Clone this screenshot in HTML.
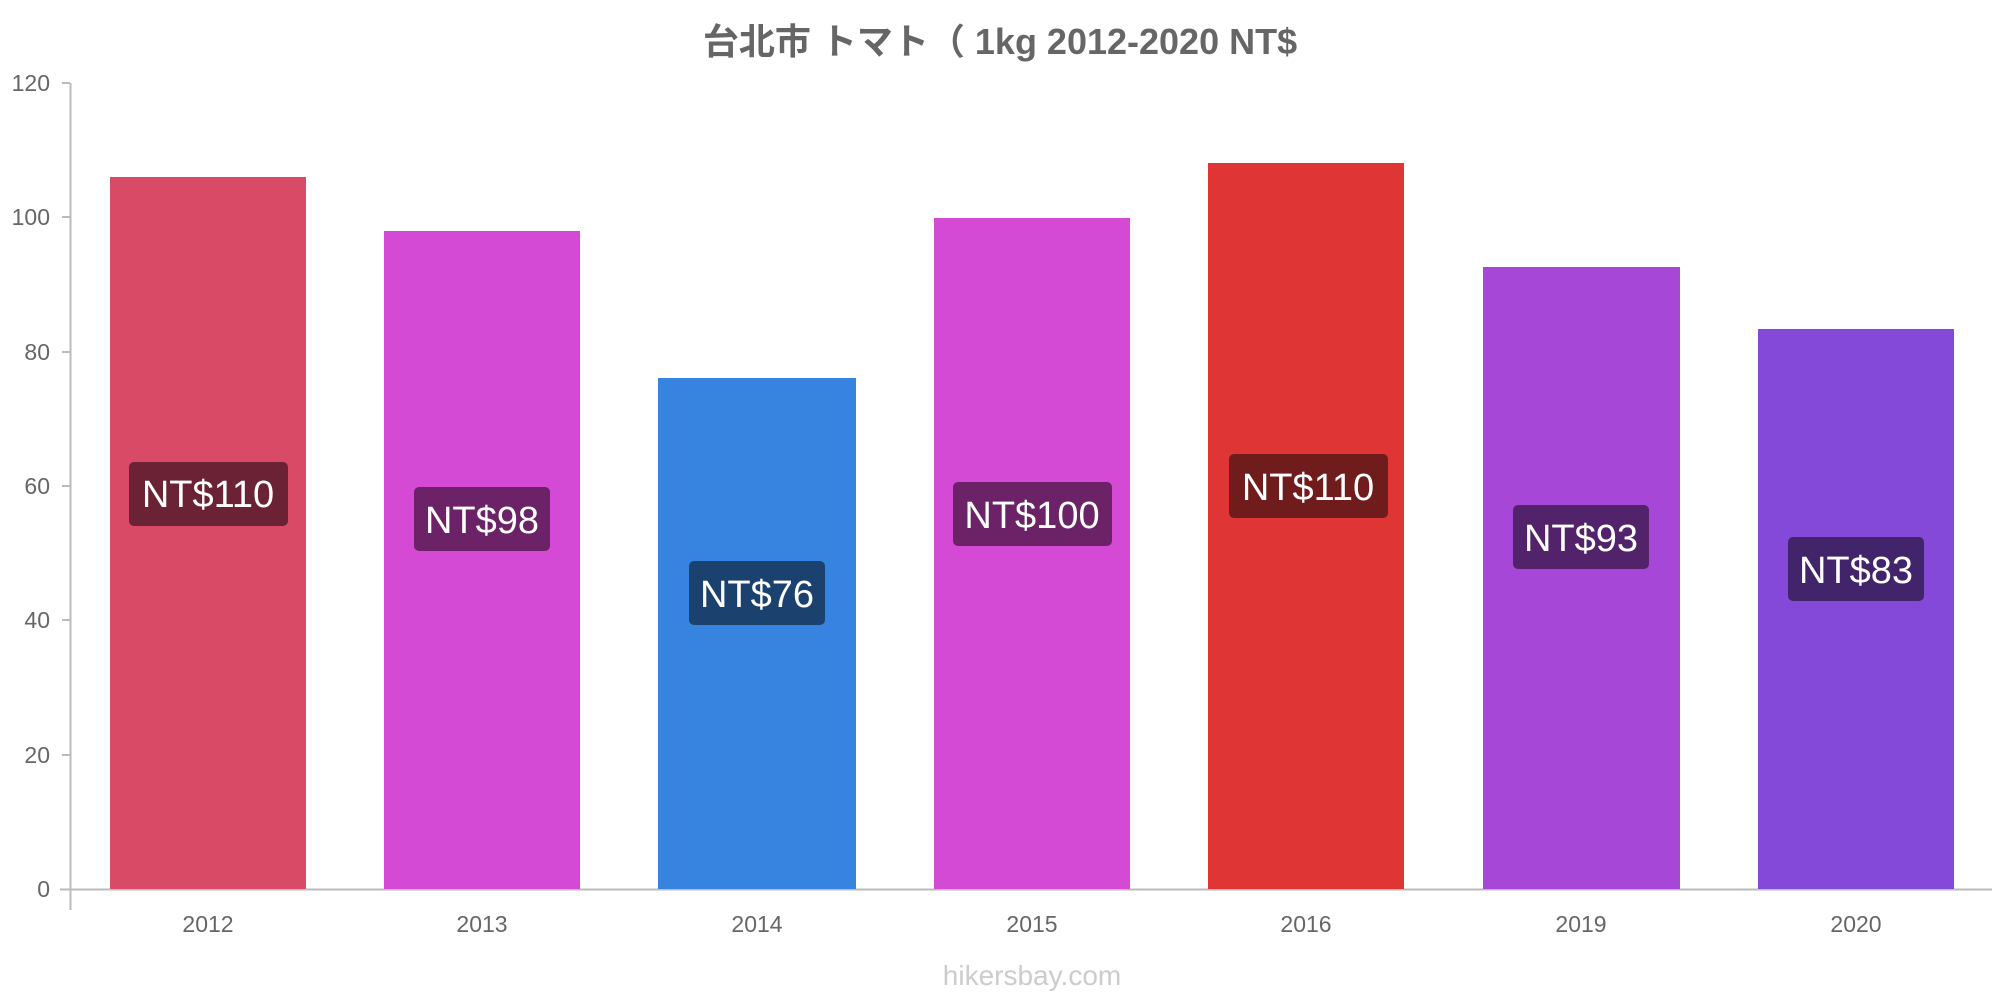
<!DOCTYPE html>
<html><head><meta charset="utf-8"><style>
html,body{margin:0;padding:0;background:#fff;width:2000px;height:1000px;overflow:hidden}
svg text{font-family:"Liberation Sans","Noto Sans CJK JP",sans-serif}
</style></head><body>
<svg width="2000" height="1000" viewBox="0 0 2000 1000" xmlns="http://www.w3.org/2000/svg">
<text x="1000" y="54" text-anchor="middle" font-size="36" font-weight="bold" fill="#666">台北市 トマト（ 1kg 2012-2020 NT$</text>
<line x1="70.5" y1="83" x2="70.5" y2="910" stroke="#bbb" stroke-width="2"/>
<line x1="60" y1="889.5" x2="1992" y2="889.5" stroke="#bbb" stroke-width="2"/>
<g font-size="23" fill="#666" text-anchor="end">
<text x="50" y="91">120</text><text x="50" y="225">100</text><text x="50" y="360">80</text>
<text x="50" y="494">60</text><text x="50" y="628">40</text><text x="50" y="763">20</text><text x="50" y="897">0</text>
</g>
<g stroke="#bbb" stroke-width="2">
<line x1="62" y1="83" x2="70" y2="83"/><line x1="62" y1="217" x2="70" y2="217"/><line x1="62" y1="352" x2="70" y2="352"/><line x1="62" y1="486" x2="70" y2="486"/><line x1="62" y1="620" x2="70" y2="620"/><line x1="62" y1="755" x2="70" y2="755"/>
</g>
<rect x="110" y="177" width="196" height="712" fill="#d84a66"/>
<rect x="384" y="231" width="196" height="658" fill="#d54ad4"/>
<rect x="658" y="378" width="198" height="511" fill="#3784e0"/>
<rect x="934" y="218" width="196" height="671" fill="#d54ad4"/>
<rect x="1208" y="163" width="196" height="726" fill="#e03535"/>
<rect x="1483" y="267" width="197" height="622" fill="#a647d8"/>
<rect x="1758" y="329" width="196" height="560" fill="#8449d8"/>
<g font-size="38" fill="#fff" text-anchor="middle">
<rect x="129" y="462" width="159" height="64" rx="5" fill="#6b2235"/><text x="208" y="507">NT$110</text>
<rect x="414" y="487" width="136" height="64" rx="5" fill="#6b2266"/><text x="482" y="533">NT$98</text>
<rect x="689" y="561" width="136" height="64" rx="5" fill="#1b426f"/><text x="757" y="607">NT$76</text>
<rect x="953" y="482" width="159" height="64" rx="5" fill="#6b2266"/><text x="1032" y="528">NT$100</text>
<rect x="1229" y="454" width="159" height="64" rx="5" fill="#701c1c"/><text x="1308" y="500">NT$110</text>
<rect x="1513" y="505" width="136" height="64" rx="5" fill="#52236b"/><text x="1581" y="551">NT$93</text>
<rect x="1788" y="537" width="136" height="64" rx="5" fill="#42246b"/><text x="1856" y="583">NT$83</text>
</g>
<g font-size="23" fill="#666" text-anchor="middle">
<text x="208" y="932">2012</text><text x="482" y="932">2013</text><text x="757" y="932">2014</text><text x="1032" y="932">2015</text><text x="1306" y="932">2016</text><text x="1581" y="932">2019</text><text x="1856" y="932">2020</text>
</g>
<text x="1032" y="985" text-anchor="middle" font-size="28" fill="#ccc">hikersbay.com</text>
</svg>
</body></html>
